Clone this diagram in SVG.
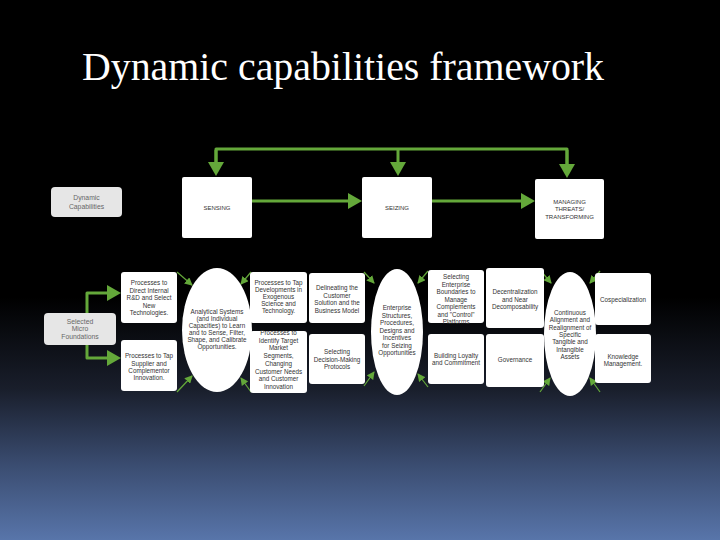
<svg xmlns="http://www.w3.org/2000/svg" width="720" height="540" viewBox="0 0 720 540">
<defs>
<linearGradient id="bg" x1="0" y1="0" x2="0" y2="1">
<stop offset="0" stop-color="#000"/>
<stop offset="0.55" stop-color="#000"/>
<stop offset="0.72" stop-color="#191e2b"/>
<stop offset="0.86" stop-color="#3a4c70"/>
<stop offset="1" stop-color="#5875aa"/>
</linearGradient>
<marker id="big" markerUnits="userSpaceOnUse" markerWidth="14" markerHeight="16" refX="1" refY="8" orient="auto">
<path d="M0,0 L14,8 L0,16 z" fill="#64a83a"/>
</marker>
<marker id="small" markerUnits="userSpaceOnUse" markerWidth="8" markerHeight="8" refX="7" refY="4" orient="auto">
<path d="M0,0 L8,4 L0,8 z" fill="#64a83a"/>
</marker>
</defs>
<style>
.box{fill:#ffffff}
.lbl{fill:#e6e6e6}
text{font-family:"Liberation Sans",Arial,sans-serif;font-size:6.3px;fill:#333;text-anchor:middle}
.g{fill:#666;font-size:6.8px}
.top{font-size:6px}
.thick{stroke:#64a83a;stroke-width:3;fill:none;stroke-linejoin:round}
.thin{stroke:#64a83a;stroke-width:1.2;fill:none}
.title{font-family:"Liberation Serif","Times New Roman",serif;font-size:40px;fill:#fff;text-anchor:start}
</style>
<rect x="0" y="0" width="720" height="540" fill="url(#bg)"/>
<text class="title" x="82" y="80" textLength="522" lengthAdjust="spacingAndGlyphs">Dynamic capabilities framework</text>

<g id="connectors">
<polyline class="thick" points="216,164 216,149 567,149 567,165" />
<line class="thick" x1="216" y1="150" x2="216" y2="163" marker-end="url(#big)"/>
<line class="thick" x1="398" y1="149" x2="398" y2="163" marker-end="url(#big)"/>
<line class="thick" x1="567" y1="150" x2="567" y2="165" marker-end="url(#big)"/>
<line class="thick" x1="252" y1="201" x2="349" y2="201" marker-end="url(#big)"/>
<line class="thick" x1="432" y1="201" x2="522" y2="201" marker-end="url(#big)"/>
<polyline class="thick" points="87,313 87,293 108,293" marker-end="url(#big)"/>
<polyline class="thick" points="87,345 87,358 108,358" marker-end="url(#big)"/>
<line class="thin" x1="177" y1="272" x2="192" y2="285" marker-end="url(#small)"/>
<line class="thin" x1="177" y1="392" x2="192" y2="376" marker-end="url(#small)"/>
<line class="thin" x1="251" y1="272" x2="241" y2="284" marker-end="url(#small)"/>
<line class="thin" x1="251" y1="392" x2="241" y2="378" marker-end="url(#small)"/>
<line class="thin" x1="364" y1="272" x2="374" y2="283" marker-end="url(#small)"/>
<line class="thin" x1="428" y1="271" x2="418" y2="283" marker-end="url(#small)"/>
<line class="thin" x1="364" y1="386" x2="374" y2="372" marker-end="url(#small)"/>
<line class="thin" x1="428" y1="387" x2="418" y2="374" marker-end="url(#small)"/>
<line class="thin" x1="541" y1="271" x2="551" y2="283" marker-end="url(#small)"/>
<line class="thin" x1="600" y1="271" x2="590" y2="283" marker-end="url(#small)"/>
<line class="thin" x1="540" y1="392" x2="550" y2="378" marker-end="url(#small)"/>
<line class="thin" x1="600" y1="392" x2="590" y2="378" marker-end="url(#small)"/>
</g>

<g id="dynamic-capabilities">
<rect class="lbl" x="51" y="187" width="71" height="30" rx="4"/>
<text class="g"><tspan x="86.5" y="199.5">Dynamic</tspan><tspan x="86.5" y="208.5">Capabilities</tspan></text>
</g>
<g id="sensing">
<rect class="box" x="182" y="177" width="70" height="61" rx="2"/>
<text class="top" x="217" y="210">SENSING</text>
</g>
<g id="seizing">
<rect class="box" x="362" y="177" width="70" height="61" rx="2"/>
<text class="top" x="397" y="210">SEIZING</text>
</g>
<g id="managing">
<rect class="box" x="535" y="179" width="69" height="60" rx="2"/>
<text class="top"><tspan x="569.5" y="204">MANAGING</tspan><tspan x="569.5" y="211">THREATS/</tspan><tspan x="569.5" y="218.5">TRANSFORMING</tspan></text>
</g>

<g id="micro-foundations">
<rect class="lbl" x="44" y="313" width="72" height="32" rx="4"/>
<text class="g"><tspan x="80" y="324">Selected</tspan><tspan x="80" y="331">Micro</tspan><tspan x="80" y="339">Foundations</tspan></text>
</g>
<g id="direct-rd">
<rect class="box" x="121" y="272" width="56" height="51" rx="3"/>
<text><tspan x="149" y="285">Processes to</tspan><tspan x="149" y="292.5">Direct Internal</tspan><tspan x="149" y="300">R&amp;D and Select</tspan><tspan x="149" y="307.5">New</tspan><tspan x="149" y="315">Technologies.</tspan></text>
</g>
<g id="supplier-innovation">
<rect class="box" x="121" y="340" width="56" height="51" rx="3"/>
<text><tspan x="149" y="358">Processes to Tap</tspan><tspan x="149" y="365.5">Supplier and</tspan><tspan x="149" y="373">Complementor</tspan><tspan x="149" y="380">Innovation.</tspan></text>
</g>
<g id="exogenous">
<rect class="box" x="250" y="272" width="57" height="51" rx="3"/>
<text><tspan x="278.5" y="285">Processes to Tap</tspan><tspan x="278.5" y="292">Developments in</tspan><tspan x="278.5" y="299">Exogenous</tspan><tspan x="278.5" y="306">Science and</tspan><tspan x="278.5" y="313">Technology.</tspan></text>
</g>
<g id="target-market">
<rect class="box" x="250" y="331" width="57" height="62" rx="3"/>
<text><tspan x="278.5" y="335">Processes to</tspan><tspan x="278.5" y="342.7">Identify Target</tspan><tspan x="278.5" y="350.4">Market</tspan><tspan x="278.5" y="358.1">Segments,</tspan><tspan x="278.5" y="365.8">Changing</tspan><tspan x="278.5" y="373.5">Customer Needs</tspan><tspan x="278.5" y="381.2">and Customer</tspan><tspan x="278.5" y="388.9">Innovation</tspan></text>
</g>
<g id="analytical-systems">
<ellipse class="box" cx="217" cy="330" rx="35" ry="62"/>
<text><tspan x="217" y="314">Analytical Systems</tspan><tspan x="217" y="321">(and Individual</tspan><tspan x="217" y="328">Capacities) to Learn</tspan><tspan x="217" y="335">and to Sense, Filter,</tspan><tspan x="217" y="342">Shape, and Calibrate</tspan><tspan x="217" y="349">Opportunities.</tspan></text>
</g>
<g id="delineating">
<rect class="box" x="309" y="273" width="56" height="50" rx="3"/>
<text><tspan x="337" y="290">Delineating the</tspan><tspan x="337" y="297.5">Customer</tspan><tspan x="337" y="305">Solution and the</tspan><tspan x="337" y="312.5">Business Model</tspan></text>
</g>
<g id="decision-making">
<rect class="box" x="309" y="334" width="56" height="50" rx="3"/>
<text><tspan x="337" y="354">Selecting</tspan><tspan x="337" y="361.5">Decision-Making</tspan><tspan x="337" y="369">Protocols</tspan></text>
</g>
<g id="enterprise-structures">
<ellipse class="box" cx="397" cy="332" rx="26" ry="63"/>
<text><tspan x="397" y="310">Enterprise</tspan><tspan x="397" y="317.5">Structures,</tspan><tspan x="397" y="325">Procedures,</tspan><tspan x="397" y="332.5">Designs and</tspan><tspan x="397" y="340">Incentives</tspan><tspan x="397" y="347.5">for Seizing</tspan><tspan x="397" y="355">Opportunities</tspan></text>
</g>
<g id="boundaries">
<rect class="box" x="428" y="270" width="56" height="53" rx="3"/>
<text><tspan x="456" y="279">Selecting</tspan><tspan x="456" y="286.5">Enterprise</tspan><tspan x="456" y="294">Boundaries to</tspan><tspan x="456" y="301.5">Manage</tspan><tspan x="456" y="309">Complements</tspan><tspan x="456" y="316.5">and "Control"</tspan><tspan x="456" y="323.5">Platforms</tspan></text>
</g>
<g id="loyalty">
<rect class="box" x="428" y="334" width="56" height="50" rx="3"/>
<text><tspan x="456" y="358">Building Loyalty</tspan><tspan x="456" y="365">and Commitment</tspan></text>
</g>
<g id="decentralization">
<rect class="box" x="486" y="268" width="58" height="60" rx="3"/>
<text><tspan x="515" y="294">Decentralization</tspan><tspan x="515" y="301.5">and Near</tspan><tspan x="515" y="309">Decomposability</tspan></text>
</g>
<g id="governance">
<rect class="box" x="486" y="334" width="58" height="53" rx="3"/>
<text x="515" y="362">Governance</text>
</g>
<g id="continuous-alignment">
<ellipse class="box" cx="570" cy="334" rx="26" ry="62"/>
<text><tspan x="570" y="315">Continuous</tspan><tspan x="570" y="322.3">Alignment and</tspan><tspan x="570" y="329.6">Realignment of</tspan><tspan x="570" y="336.9">Specific</tspan><tspan x="570" y="344.2">Tangible and</tspan><tspan x="570" y="351.5">Intangible</tspan><tspan x="570" y="358.8">Assets</tspan></text>
</g>
<g id="cospecialization">
<rect class="box" x="595" y="273" width="56" height="52" rx="3"/>
<text x="623" y="302">Cospecialization</text>
</g>
<g id="knowledge">
<rect class="box" x="595" y="334" width="56" height="49" rx="3"/>
<text><tspan x="623" y="359">Knowledge</tspan><tspan x="623" y="366">Management.</tspan></text>
</g>
</svg>
